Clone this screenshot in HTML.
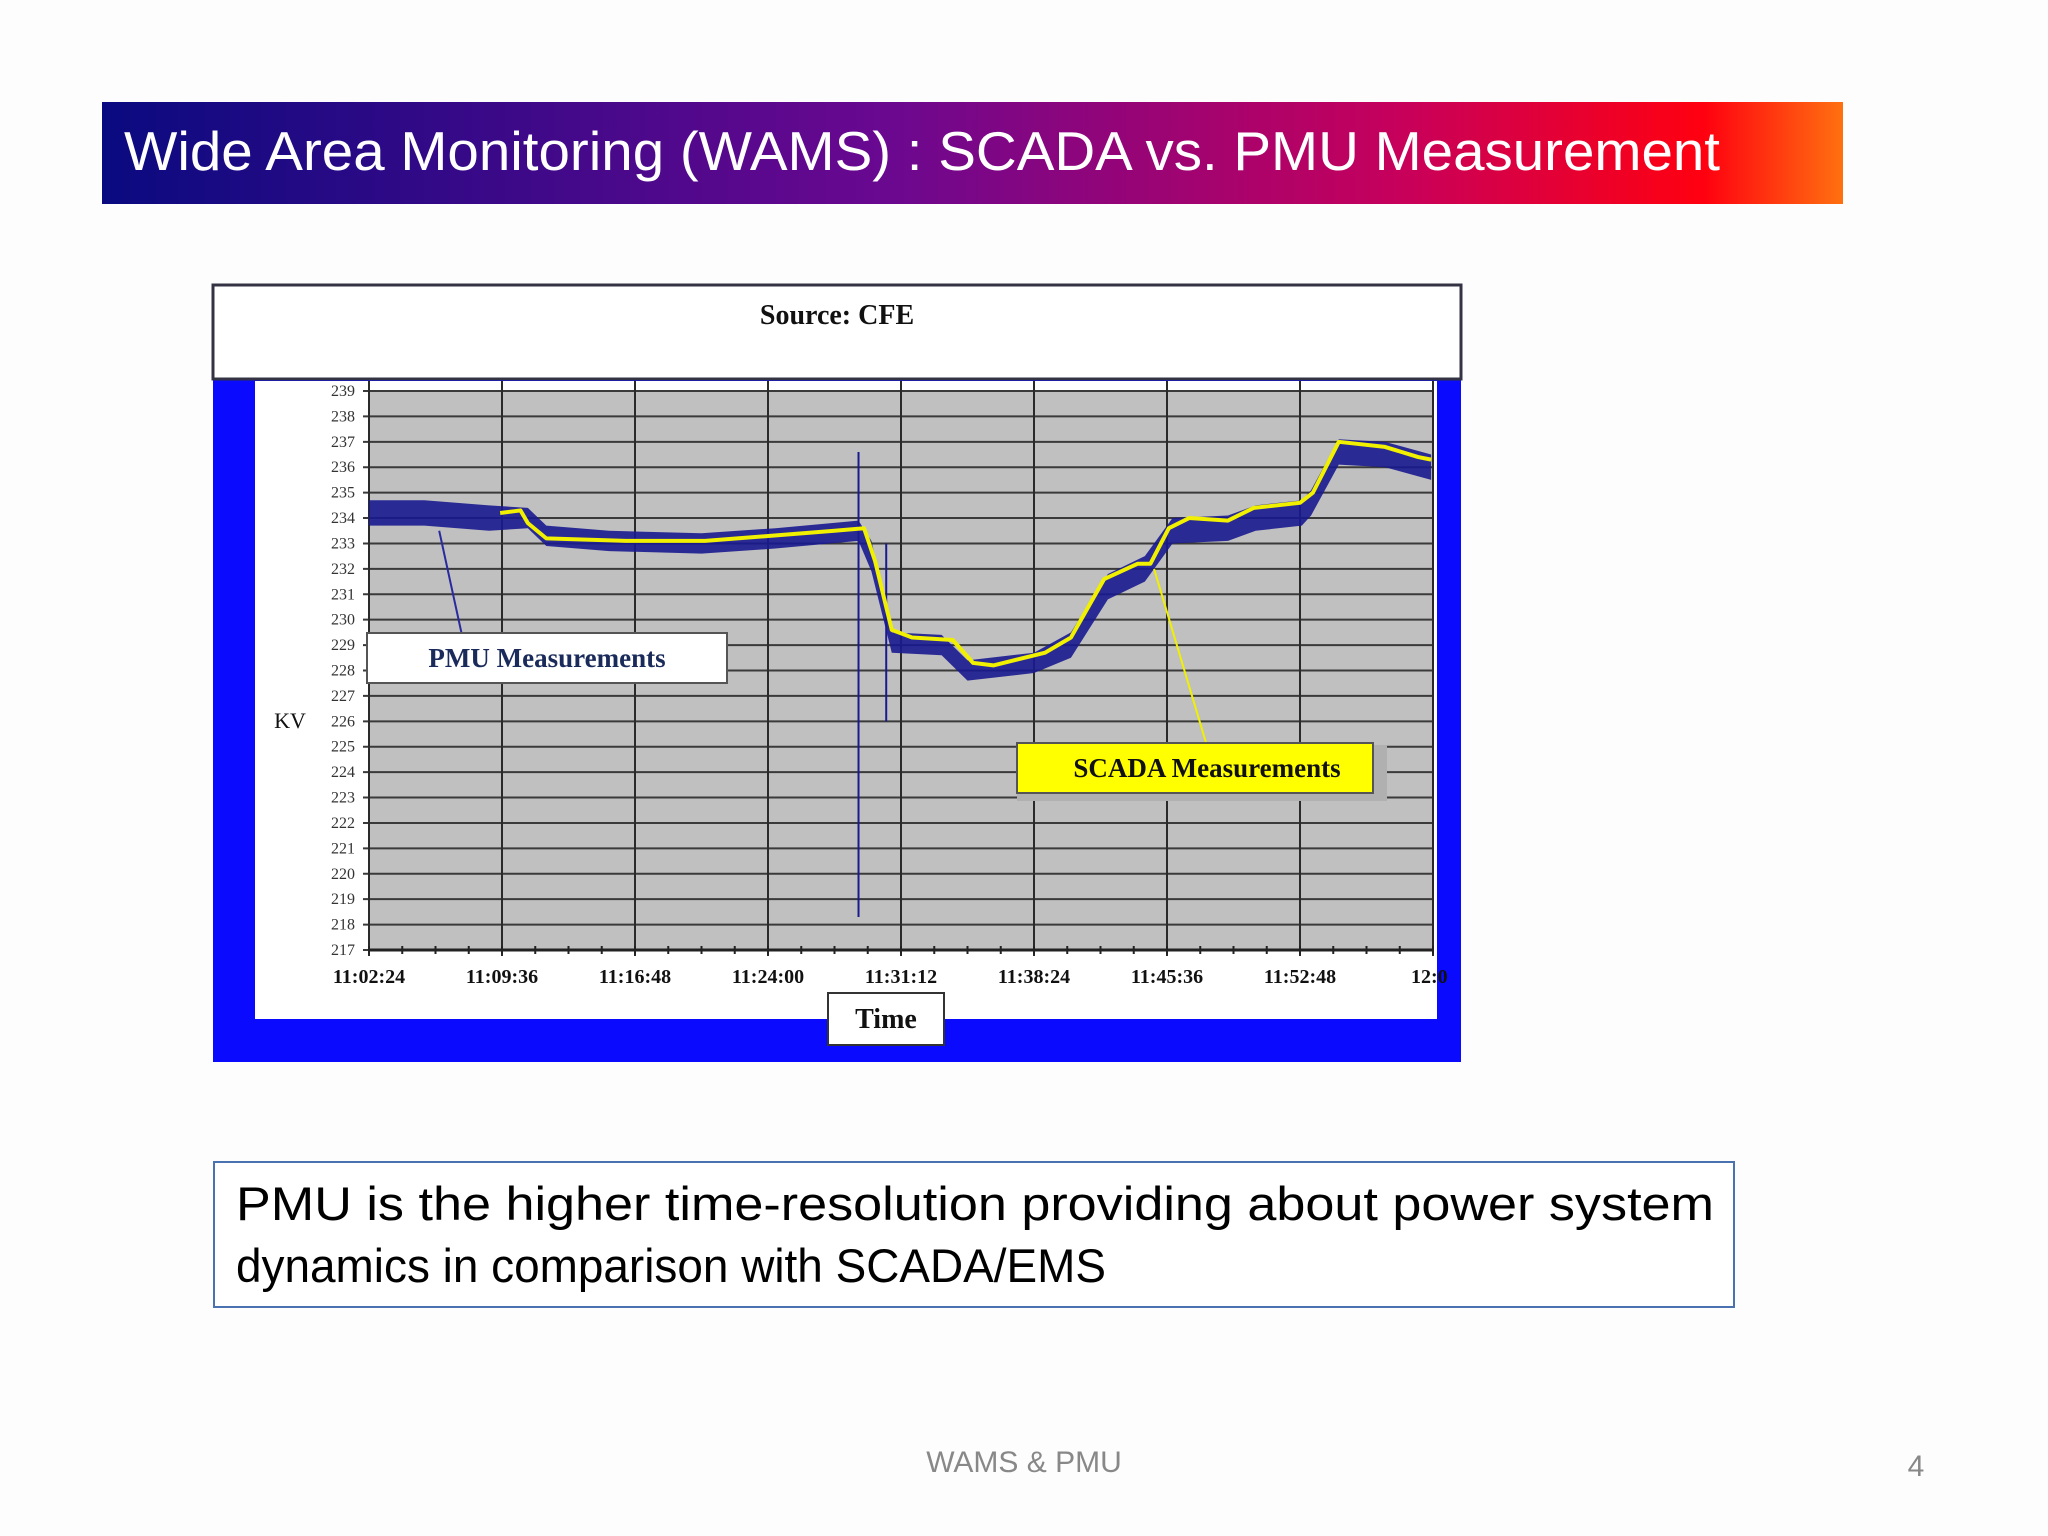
<!DOCTYPE html>
<html><head><meta charset="utf-8">
<style>
html,body{margin:0;padding:0;background:#fff;}
svg{display:block;}
</style></head>
<body>
<svg id="s" width="2048" height="1536" viewBox="0 0 2048 1536" xmlns="http://www.w3.org/2000/svg">
<defs>
<linearGradient id="tg" x1="0" x2="1" y1="0" y2="0">
<stop offset="0" stop-color="#0a0a80"/>
<stop offset="0.45" stop-color="#6a0890"/>
<stop offset="0.75" stop-color="#c8005a"/>
<stop offset="0.92" stop-color="#ff0010"/>
<stop offset="1" stop-color="#ff7010"/>
</linearGradient>
</defs>
<rect x="0" y="0" width="2048" height="1536" fill="#fdfdfd"/>
<g>
<rect x="102" y="102" width="1741" height="102" fill="url(#tg)"/>
<text x="124" y="170" font-family="Liberation Sans, sans-serif" font-size="55" fill="#fff" textLength="1596" lengthAdjust="spacingAndGlyphs">Wide Area Monitoring (WAMS) : SCADA vs. PMU Measurement</text>
</g>
<g>
<rect x="213" y="285" width="1248" height="777" fill="#0a0aff"/>
<rect x="213" y="285" width="1248" height="94" fill="#fff" stroke="#334" stroke-width="3"/>
<text x="837" y="324" text-anchor="middle" font-family="Liberation Serif, serif" font-weight="bold" font-size="28" fill="#111">Source: CFE</text>
<rect x="255" y="381" width="1182" height="638" fill="#fff"/>
</g>
<g id="plot"></g>
<g>
<rect x="828" y="993" width="116" height="52" fill="#fff" stroke="#333" stroke-width="2"/>
<text x="886" y="1028" text-anchor="middle" font-family="Liberation Serif, serif" font-weight="bold" font-size="28" fill="#111">Time</text>
</g>
<text x="290" y="728" text-anchor="middle" font-family="Liberation Serif, serif" font-size="22" fill="#111">KV</text>
<g>
<rect x="214" y="1162" width="1520" height="145" fill="#fff" stroke="#4a72b0" stroke-width="2"/>
<text x="236" y="1220" font-family="Liberation Sans, sans-serif" font-size="47" fill="#000" textLength="1478" lengthAdjust="spacingAndGlyphs">PMU is the higher time-resolution providing about power system</text>
<text x="236" y="1282" font-family="Liberation Sans, sans-serif" font-size="47" fill="#000" textLength="870" lengthAdjust="spacingAndGlyphs">dynamics in comparison with SCADA/EMS</text>
</g>
<text x="1024" y="1472" text-anchor="middle" font-family="Liberation Sans, sans-serif" font-size="30" fill="#888">WAMS &amp; PMU</text>
<text x="1916" y="1476" text-anchor="middle" font-family="Liberation Sans, sans-serif" font-size="30" fill="#888">4</text>
</svg>
<script>
const xTicks=["11:02:24","11:09:36","11:16:48","11:24:00","11:31:12","11:38:24","11:45:36","11:52:48","12:0"];
const yTicks=[217,218,219,220,221,222,223,224,225,226,227,228,229,230,231,232,233,234,235,236,237,238,239];
const scadaT=[7.1,8.2,8.6,9.6,13.9,18.2,21.7,25.2,26.8,27.4,28.3,29.4,31.6,32.7,33.8,36.6,38.0,39.8,41.6,42.3,43.3,44.4,46.5,47.9,50.4,51.1,52.5,55.0,56.8,57.5];
const scadaV=[234.2,234.3,233.8,233.2,233.1,233.1,233.3,233.5,233.6,232.3,229.6,229.3,229.2,228.3,228.2,228.7,229.3,231.6,232.2,232.2,233.6,234.0,233.9,234.4,234.6,235.0,237.0,236.8,236.4,236.3];
const pmuT=[0,3,6.5,8.6,9.6,13,18,22,26.5,27.2,28.3,31,32.4,36,38,40,42,43.5,46.5,48,50.5,51,52.5,55,57.5];
const pmuV=[234.2,234.2,234.0,234.0,233.3,233.1,233.0,233.2,233.5,232.5,229.1,229.0,228.0,228.3,229.0,231.3,232.0,233.5,233.6,234.0,234.2,234.6,236.6,236.5,236.0];
const pmuSpread=[0.5,0.5,0.5,0.4,0.4,0.4,0.4,0.4,0.4,0.6,0.4,0.4,0.4,0.4,0.5,0.5,0.5,0.5,0.5,0.5,0.5,0.5,0.5,0.5,0.5];
const spikeT=[26.5,28.0];
const spikeTop=[236.6,233];
const spikeBot=[218.3,226];

const NS="http://www.w3.org/2000/svg";
const L=369,R=1433,T=391,B=950,tMax=57.6,vMin=217,vMax=239;
const X=t=>L+(t/tMax)*(R-L);
const Y=v=>B-(v-vMin)/(vMax-vMin)*(B-T);
const g=document.getElementById('plot');
function mk(tag,a,parent){const e=document.createElementNS(NS,tag);for(const k in a)e.setAttribute(k,a[k]);(parent||g).appendChild(e);return e;}
const bg=mk('rect',{x:L,y:T,width:R-L,height:B-T,fill:'#c0c0c0'});


yTicks.forEach(v=>{
  const ln=mk('line',{x1:L-6,x2:R,y1:Y(v),y2:Y(v),stroke:'#3a3a3a','stroke-width':2});
  
  
  const tx=mk('text',{x:L-14,y:Y(v)+5,'text-anchor':'end','font-family':'Liberation Serif, serif','font-size':16,fill:'#333'});
  tx.textContent=v;
  
  
});
xTicks.forEach((s,i)=>{
  const x=X(i*7.2);
  const ln=mk('line',{x1:x,x2:x,y1:T-10,y2:B+6,stroke:'#2a2a2a','stroke-width':2});
  
  
  const tx=mk('text',{x:i==8?x-22:x,y:B+33,'text-anchor':i==8?'start':'middle','font-family':'Liberation Serif, serif','font-weight':'bold','font-size':20,fill:'#111'});
  tx.textContent=s;
  
  
});
for(let k=0;k<=32;k++){
  const ln=mk('line',{x1:X(k*1.8),x2:X(k*1.8),y1:B-4,y2:B+4,stroke:'#222','stroke-width':2});
  
  
}
const ax=mk('line',{x1:L,x2:R,y1:B,y2:B,stroke:'#222','stroke-width':3});


let up=pmuT.map((t,i)=>X(t)+','+Y(pmuV[i]+pmuSpread[i]));
let lo=pmuT.map((t,i)=>X(t)+','+Y(pmuV[i]-pmuSpread[i])).reverse();
const band=mk('polygon',{points:up.concat(lo).join(' '),fill:'#1a1a90',opacity:0.9});


spikeT.forEach((t,i)=>{
  const sp=mk('line',{x1:X(t),x2:X(t),y1:Y(spikeTop[i]),y2:Y(spikeBot[i]),stroke:'#1a1a90','stroke-width':2});
  
  
});
const sc=mk('polyline',{points:scadaT.map((t,i)=>X(t)+','+Y(scadaV[i])).join(' '),fill:'none',stroke:'#f0f000','stroke-width':4,'stroke-linejoin':'round'});


const a1=mk('line',{x1:X(3.8),y1:Y(233.5),x2:X(5),y2:Y(229.5),stroke:'#2a2aa0','stroke-width':2});


const a2=mk('line',{x1:X(42.5),y1:Y(232),x2:X(45.5),y2:Y(224.7),stroke:'#f0f000','stroke-width':2});


const pb=mk('rect',{x:367,y:633,width:360,height:50,fill:'#fff',stroke:'#555','stroke-width':2});


const pt=mk('text',{x:547,y:667,'text-anchor':'middle','font-family':'Liberation Serif, serif','font-weight':'bold','font-size':27,fill:'#1a2a5a'});
pt.textContent='PMU Measurements';


const sh=mk('rect',{x:1017,y:745,width:370,height:56,fill:'#b0b0b0'});


const sb=mk('rect',{x:1017,y:743,width:356,height:50,fill:'#ffff00',stroke:'#555','stroke-width':2});


const st=mk('text',{x:1207,y:777,'text-anchor':'middle','font-family':'Liberation Serif, serif','font-weight':'bold','font-size':27,fill:'#111'});
st.textContent='SCADA Measurements';


</script>
</body></html>
